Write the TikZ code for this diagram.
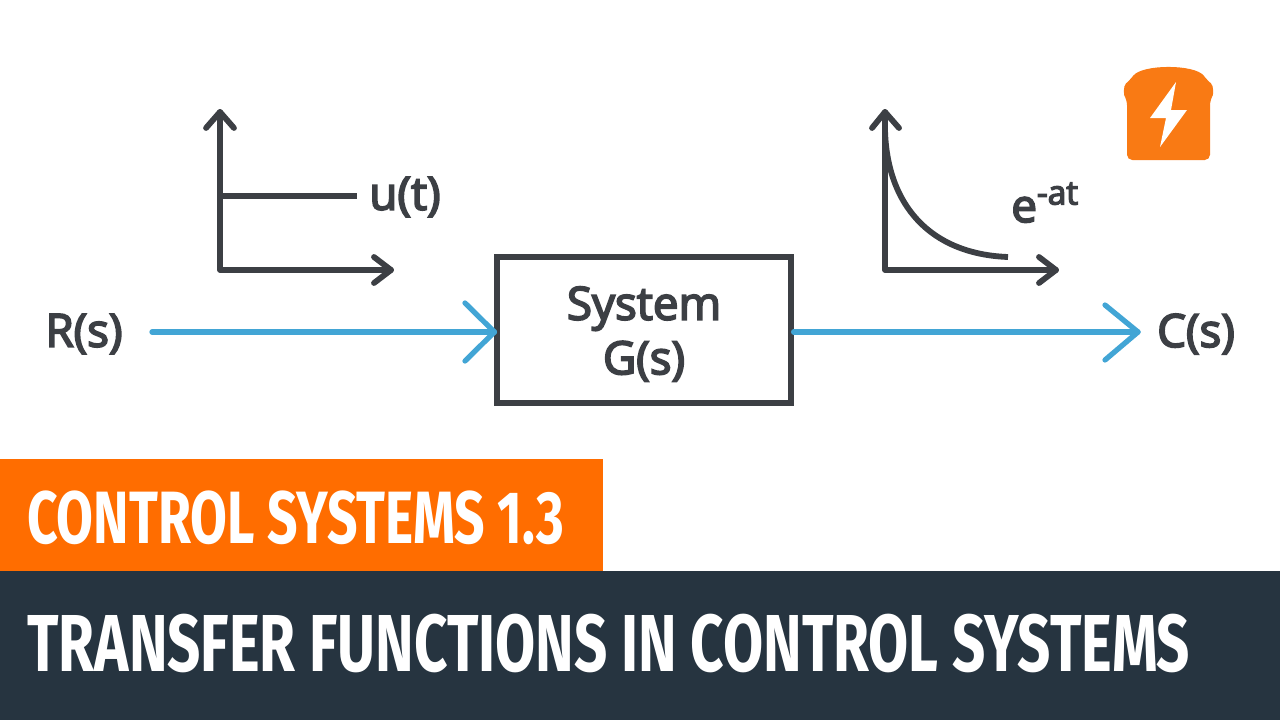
\documentclass[tikz,border=0pt]{standalone}
\usepackage{fontspec}
\setmainfont{Open Sans}
\newfontfamily\labelfont[FakeBold=4]{Open Sans}
\newfontfamily\titlefont[FakeStretch=0.72]{Fira Sans}
\usetikzlibrary{positioning}
\definecolor{inkgrey}{HTML}{3C3F44}
\definecolor{flowblue}{HTML}{42A5D5}
\definecolor{bannerorange}{HTML}{FF6D00}
\definecolor{bannerdark}{HTML}{263440}
\definecolor{toastorange}{HTML}{F97A14}
\tikzset{
  axisline/.style={draw=inkgrey,line width=3.3pt,line cap=round,line join=round},
  flowline/.style={draw=flowblue,line width=3pt,line cap=round,line join=round},
  plotlabel/.style={text=inkgrey,font=\labelfont\fontsize{26}{31}\selectfont,inner sep=0pt},
  bannertext/.style={text=white,font=\titlefont\bfseries,inner sep=0pt,anchor=west}
}
\begin{document}
\begin{tikzpicture}[x=0.02cm,y=-0.02cm]
\useasboundingbox (0,0) rectangle (1280,720);
% banners
\fill [bannerorange] (0,459) rectangle (603,571);
\fill [bannerdark] (0,571) rectangle (1280,720);
\node [bannertext,font=\titlefont\bfseries\fontsize{42.2}{46}\selectfont] (chapter) at (27,518) {CONTROL SYSTEMS 1.3};
\node [bannertext,font=\titlefont\bfseries\fontsize{46}{52}\selectfont] (heading) at (27,643) {TRANSFER FUNCTIONS IN CONTROL SYSTEMS};
% logo
\fill [toastorange,rounded corners=3pt] (1127,160) -- (1127,100)
  .. controls (1124,95) and (1123,86) .. (1130,80)
  .. controls (1142,64) and (1195,64) .. (1207,80)
  .. controls (1214,86) and (1213,95) .. (1210,100)
  -- (1210,160) -- cycle;
\fill [white] (1176,82) -- (1150,118) -- (1166,118) -- (1160,147) -- (1187,110) -- (1171,110) -- cycle;
% system block
\node [draw=inkgrey,line width=3pt,minimum width=5.88cm,minimum height=2.92cm,inner sep=0pt] (system) at (644,330) {};
\node [plotlabel,align=center] (systemname) at (644,334) {System\\G(s)};
% signals
\node [plotlabel] (input) at (84,334) {R(s)};
\node [plotlabel] (output) at (1196,334) {C(s)};
\coordinate (instart) at (152,332);
\coordinate (inend) at (system.west |- instart);
\coordinate (outend) at (1138,332);
\coordinate (outstart) at (system.east |- outend);
\draw [flowline] (instart) -- (inend);
\draw [flowline] (465,303) -- (inend) -- (465,361);
\draw [flowline] (outstart) -- (outend);
\draw [flowline] (1105,305) -- (outend) -- (1105,360);
% step plot
\coordinate (steporigin) at (220,270);
\coordinate (steptop) at (220,112);
\coordinate (stepright) at (391,270);
\coordinate (stepon) at (220,196);
\coordinate (stepoff) at (357,196);
\node [plotlabel] (steplabel) at (405,197) {u(t)};
\draw [axisline] (steptop) -- (steporigin) -- (stepright);
\draw [axisline] (206,128) -- (steptop) -- (234,128);
\draw [axisline] (374,257) -- (stepright) -- (374,283);
\draw [axisline,line cap=butt] (stepon) -- (stepoff);
% decay plot
\coordinate (decayorigin) at (885,270);
\coordinate (decaytop) at (885,112);
\coordinate (decayright) at (1056,270);
\coordinate (decaystart) at (885,130);
\coordinate (decayend) at (1008,257);
\node [plotlabel,anchor=base west] (decaylabel) at (1011,222) {e\raisebox{10pt}{\fontsize{19}{22}\selectfont -at}};
\draw [axisline] (decaytop) -- (decayorigin) -- (decayright);
\draw [axisline] (872,128) -- (decaytop) -- (899,128);
\draw [axisline] (1039,257) -- (decayright) -- (1039,283);
\draw [axisline,line cap=butt] (decaystart) .. controls (887,205) and (930,254) .. (decayend);
\end{tikzpicture}
\end{document}
